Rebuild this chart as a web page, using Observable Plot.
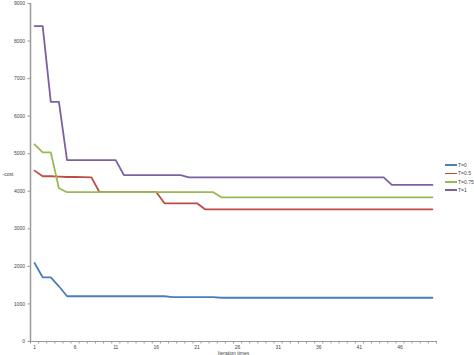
<!DOCTYPE html>
<html>
<head>
<meta charset="utf-8">
<script src="https://cdn.jsdelivr.net/npm/d3@7"></script>
<script src="https://cdn.jsdelivr.net/npm/@observablehq/plot@0.6"></script>
<style>
  body { margin: 0; background: #fff; }
  #wrap { position: relative; width: 474px; height: 355px; font-family: "Liberation Sans", Arial, sans-serif; }
  #legend { position: absolute; left: 445px; top: 161px; font-size: 5px; color: #444; }
  #legend .item { display: flex; align-items: center; height: 8.3px; }
  #legend .sw { width: 12px; height: 1.6px; margin-right: 1px; }
</style>
</head>
<body>
<div id="wrap"></div>
<script>
// Series names and colours
const seriesNames = ["T=0", "T=0.5", "T=0.75", "T=1"];
const seriesColors = ["#4A7EBB", "#BE4B48", "#98B954", "#7D60A0"];

// Iteration index 1..50
const iterations = [1,2,3,4,5,6,7,8,9,10,11,12,13,14,15,16,17,18,19,20,21,22,23,24,25,26,27,28,29,30,31,32,33,34,35,36,37,38,39,40,41,42,43,44,45,46,47,48,49,50];

// Cost values
const costT0 = [2090,1710,1710,1470,1205,1205,1205,1205,1205,1205,1205,1205,1205,1205,1205,1205,1205,1180,1180,1180,1180,1180,1180,1165,1165,1165,1165,1165,1165,1165,1165,1165,1165,1165,1165,1165,1165,1165,1165,1165,1165,1165,1165,1165,1165,1165,1165,1165,1165,1165];
const costT05 = [4550,4400,4400,4390,4380,4380,4375,4370,3975,3975,3975,3975,3975,3975,3975,3975,3680,3680,3680,3680,3680,3520,3520,3520,3520,3520,3520,3520,3520,3520,3520,3520,3520,3520,3520,3520,3520,3520,3520,3520,3520,3520,3520,3520,3520,3520,3520,3520,3520,3520];
const costT075 = [5250,5035,5035,4080,3975,3975,3975,3975,3975,3975,3975,3975,3975,3975,3975,3975,3975,3975,3975,3975,3975,3975,3975,3840,3840,3840,3840,3840,3840,3840,3840,3840,3840,3840,3840,3840,3840,3840,3840,3840,3840,3840,3840,3840,3840,3840,3840,3840,3840,3840];
const costT1 = [8400,8400,6380,6380,4830,4830,4830,4830,4830,4830,4830,4430,4430,4430,4430,4430,4430,4430,4430,4370,4370,4370,4370,4370,4370,4370,4370,4370,4370,4370,4370,4370,4370,4370,4370,4370,4370,4370,4370,4370,4370,4370,4370,4370,4170,4170,4170,4170,4170,4170];

// Tick labels
const yTicks = [0,1000,2000,3000,4000,5000,6000,7000,8000,9000];
const xLabelTicks = [1,6,11,16,21,26,31,36,41,46];
const xTitle = "Iteration times";
const yTitle = "cost";

const allSeries = [costT0, costT05, costT075, costT1];
const data = [];
allSeries.forEach((vals, s) => vals.forEach((v, i) => data.push({x: iterations[i], y: v, series: seriesNames[s]})));

// category boundaries for minor tick marks
const xBoundaries = d3.range(0.5, iterations.length + 1, 1);

const axisColor = "#9a9a9a";
const chart = Plot.plot({
  width: 474,
  height: 355,
  marginLeft: 30,
  marginRight: 38,
  marginTop: 3,
  marginBottom: 14,
  style: {fontFamily: "Liberation Sans, Arial, sans-serif", fontSize: "5px", color: "#444", background: "#fff"},
  x: {domain: [0.5, iterations.length + 0.5]},
  y: {domain: [0, 9000]},
  color: {domain: seriesNames, range: seriesColors},
  marks: [
    Plot.axisY({ticks: yTicks, tickSize: 2.5, tickPadding: 3, stroke: axisColor, label: null, tickFormat: d => String(d)}),
    Plot.axisX({ticks: xBoundaries, tickSize: 2.5, stroke: axisColor, tickFormat: () => "", label: null}),
    Plot.axisX({ticks: xLabelTicks, tickSize: 0, tickPadding: 3.5, label: null, tickFormat: d => String(d)}),
    Plot.ruleX([0.5], {stroke: axisColor, strokeWidth: 1.5}),
    Plot.ruleY([0], {stroke: axisColor, strokeWidth: 1}),
    Plot.text([yTitle], {frameAnchor: "left", text: d => "-" + d, dx: -28, textAnchor: "start", dy: 2, fontSize: 5, fill: "#444"}),
    Plot.text([xTitle], {frameAnchor: "bottom", text: d => d, dy: 11.5, lineAnchor: "middle", fontSize: 5, fill: "#444"}),
    Plot.line(data, {x: "x", y: "y", z: "series", stroke: "series", strokeWidth: 1.8, curve: "linear"})
  ]
});
const wrap = document.getElementById("wrap");
wrap.appendChild(chart);

const legend = document.createElement("div");
legend.id = "legend";
seriesNames.forEach((name, i) => {
  const item = document.createElement("div");
  item.className = "item";
  const sw = document.createElement("span");
  sw.className = "sw";
  sw.style.background = seriesColors[i];
  const t = document.createElement("span");
  t.textContent = name;
  item.appendChild(sw);
  item.appendChild(t);
  legend.appendChild(item);
});
wrap.appendChild(legend);
</script>
</body>
</html>
